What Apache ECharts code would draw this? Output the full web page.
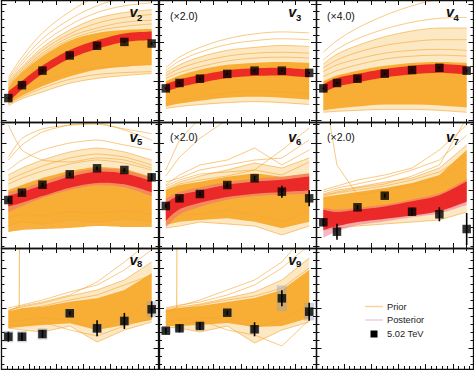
<!DOCTYPE html>
<html><head><meta charset="utf-8">
<script src="https://cdn.jsdelivr.net/npm/echarts@6/dist/echarts.min.js"></script>
<style>html,body{margin:0;padding:0;background:#fff}#c{width:474px;height:370px}</style>
</head><body><div id="c"></div>
<script>
// centrality bin centres (%)
const cent = [2.5, 7.5, 15, 25, 35, 45, 55];
// tick values
const xMajorTicks = [10, 20, 30, 40, 50];
const xMinorTicks = [5, 15, 25, 35, 45, 55];
const xFineTicks = [2,4,6,8,12,14,16,18,22,24,26,28,32,34,36,38,42,44,46,48,52,54,56];
const row1Major = [0, 5, 10, 15];
const row1Minor = [1,2,3,4,6,7,8,9,11,12,13,14];
const row2Major = [0, 1, 2];
const row2Minor = [-0.2,0.2,0.4,0.6,0.8,1.2,1.4,1.6,1.8,2.2,2.4];
const row3Major = [0, 0.5, 1];
const row3Minor = [-0.2,-0.1,0.1,0.2,0.3,0.4,0.6,0.7,0.8,0.9,1.1,1.2];

// values in percent, as plotted (including the panel scale factor)
// ---- v2 ----
const v2Data = [2.84, 4.5, 6.38, 8.34, 9.59, 10.09, 9.88];
const v2Err = [0.1, 0.1, 0.1, 0.1, 0.1, 0.1, 0.15];
const v2PostLow = [2.3, 3.94, 5.94, 7.94, 9.19, 10.07, 10.32];
const v2PostHigh = [3.7, 5.06, 7.06, 9.06, 10.31, 11.19, 11.44];
const v2CoreLow = [2.13, 3.13, 4.38, 5.63, 6.5, 6.88, 7.13];
const v2CoreHigh = [4.25, 6.13, 8.25, 10.25, 11.25, 11.63, 11.75];
const v2Prior = [
  [5.5, 8.13, 11.25, 14.0, 16.0, 17.5, 18.25],
  [5.25, 7.63, 10.5, 13.0, 14.75, 15.75, 16.25],
  [5.0, 7.25, 9.88, 12.25, 13.88, 14.75, 15.13],
  [4.88, 6.88, 9.38, 11.63, 13.13, 13.88, 14.25],
  [4.63, 6.63, 9.0, 11.13, 12.5, 13.25, 13.63],
  [4.5, 6.38, 8.63, 10.75, 11.88, 12.63, 12.88],
  [4.4, 6.2, 8.4, 10.4, 11.5, 12.1, 12.4],
  [2.38, 3.5, 4.88, 6.13, 6.75, 7.0, 7.13],
  [2.13, 3.0, 4.13, 5.25, 5.88, 6.13, 6.25],
  [1.88, 2.75, 3.63, 4.75, 5.38, 5.75, 6.0]
];
// ---- v3 (x2.0) ----
const v3Data = [4.09, 4.79, 5.34, 5.96, 6.38, 6.38, 6.09];
const v3Err = [0.1, 0.1, 0.1, 0.1, 0.1, 0.1, 0.1];
const v3PostLow = [3.69, 4.25, 4.81, 5.44, 5.69, 5.75, 5.5];
const v3PostHigh = [4.69, 5.25, 5.81, 6.44, 6.69, 6.75, 6.5];
const v3CoreLow = [1.75, 2.13, 2.5, 2.88, 3.0, 2.88, 2.63];
const v3CoreHigh = [5.0, 5.75, 6.5, 7.13, 7.38, 7.5, 7.38];
const v3Prior = [
  [6.75, 8.13, 9.38, 10.5, 11.13, 11.38, 11.25],
  [6.38, 7.63, 8.75, 9.75, 10.25, 10.5, 10.38],
  [6.13, 7.13, 8.13, 9.0, 9.38, 9.63, 9.5],
  [5.75, 6.63, 7.5, 8.25, 8.63, 8.75, 8.63],
  [5.38, 6.13, 6.88, 7.63, 8.0, 8.13, 8.0],
  [1.5, 1.75, 2.0, 2.25, 2.38, 2.25, 2.0],
  [2.13, 2.5, 3.0, 3.5, 3.75, 3.63, 3.38]
];
// ---- v4 (x4.0) ----
const v4Data = [4.09, 4.79, 5.34, 6.0, 6.46, 6.75, 6.38];
const v4Err = [0.1, 0.1, 0.1, 0.1, 0.1, 0.1, 0.1];
const v4PostLow = [3.53, 4.32, 4.86, 5.48, 5.9, 6.11, 5.9];
const v4PostHigh = [4.65, 5.44, 5.98, 6.6, 7.02, 7.23, 7.02];
const v4CoreLow = [1.25, 1.5, 1.75, 2.0, 2.0, 1.88, 1.63];
const v4CoreHigh = [5.0, 5.75, 6.38, 7.0, 7.38, 7.5, 7.38];
const v4Prior = [
  [8.75, 10.25, 11.88, 13.5, 14.75, 15.63, 16.25],
  [7.75, 9.13, 10.5, 11.75, 12.63, 13.13, 13.25],
  [7.25, 8.5, 9.63, 10.75, 11.5, 11.88, 11.88],
  [6.75, 7.75, 8.75, 9.63, 10.13, 10.38, 10.38],
  [6.25, 7.13, 7.88, 8.63, 9.0, 9.13, 9.0],
  [5.63, 6.38, 7.13, 7.88, 8.25, 8.38, 8.25],
  [1.0, 1.13, 1.25, 1.38, 1.38, 1.25, 1.0]
];
// ---- v5 ----
const v5Data = [0.787, 0.943, 1.113, 1.334, 1.462, 1.426, 1.270];
const v5Err = [0.04, 0.04, 0.04, 0.04, 0.04, 0.04, 0.08];
const v5PostLow = [0.65, 0.73, 0.87, 1.05, 1.15, 1.12, 0.95];
const v5PostHigh = [0.88, 0.96, 1.10, 1.28, 1.39, 1.35, 1.19];
const v5PinkLow = [0.53, 0.66, 0.83, 1.0, 1.1, 1.06, 0.87];
const v5PinkHigh = [0.95, 1.03, 1.17, 1.35, 1.45, 1.42, 1.26];
const v5CoreLow = [0.106, 0.149, 0.170, 0.191, 0.234, 0.213, 0.213];
const v5CoreHigh = [1.0, 1.106, 1.255, 1.404, 1.489, 1.447, 1.277];
const v5Prior = [
  [1.426, 1.638, 1.851, 2.0, 2.064, 1.957, 1.851],
  [1.319, 1.468, 1.638, 1.809, 1.894, 1.809, 1.638],
  [1.213, 1.340, 1.511, 1.681, 1.766, 1.702, 1.532],
  [1.128, 1.255, 1.404, 1.553, 1.638, 1.574, 1.426],
  [1.638, 1.957, 2.234, 2.383, 2.426, 2.277, 2.064],
  [1.7, 2.1, 2.3, 2.38, 2.4, 2.3, 2.2],
  [2.383, 1.851, 1.638, 1.596, 1.681, 1.638, 1.468],
  [0.234, 0.319, 0.277, 0.362, 0.319, 0.383, 0.319],
  [0.404, 0.489, 0.447, 0.532, 0.511, 0.553, 0.489]
];
// ---- v6 (x2.0) ----
const v6Data = [0.660, 0.823, 0.915, 1.106, 1.249, 0.964, 0.823];
const v6Err = [0.04, 0.04, 0.04, 0.05, 0.05, 0.128, 0.17];
const v6PostLow = [0.35, 0.59, 0.73, 0.85, 0.92, 0.96, 0.99];
const v6PostHigh = [0.73, 0.89, 0.99, 1.11, 1.18, 1.22, 1.29];
const v6PinkLow = [0.2, 0.48, 0.64, 0.79, 0.87, 0.9, 0.92];
const v6PinkHigh = [0.82, 0.96, 1.06, 1.17, 1.24, 1.28, 1.35];
const v6CoreLow = [0.255, 0.326, 0.362, 0.398, 0.326, 0.185, 0.326];
const v6CoreHigh = [1.0, 1.106, 1.177, 1.283, 1.355, 1.283, 1.355];
const v6Prior = [
  [1.426, 2.064, 2.532, 2.574, 2.532, 2.489, 2.447],
  [1.3, 1.7, 2.1, 2.5, 2.6, 2.6, 2.5],
  [1.106, 1.319, 1.532, 1.638, 1.894, 1.532, 1.851],
  [1.170, 1.255, 1.426, 1.532, 1.638, 1.681, 2.064],
  [1.043, 1.170, 1.298, 1.426, 1.574, 1.468, 1.681],
  [1.085, 1.213, 1.340, 1.383, 1.426, 1.319, 1.596],
  [1.0, 1.128, 1.213, 1.298, 1.426, 1.851, 2.319],
  [0.191, 0.234, 0.319, 0.277, 0.234, 0.043, 0.234],
  [0.362, 0.468, 0.489, 0.574, 0.468, 0.319, 0.532]
];
// ---- v7 (x2.0) ----
const v7Data = [0.313, 0.113, 0.632, 0.879, 0.538, 0.483, 0.170];
const v7Err = [0.085, 0.17, 0.043, 0.043, 0.085, 0.149, 0.34];
const v7PostLow = [0.15, 0.23, 0.32, 0.39, 0.46, 0.55, 0.75];
const v7PostHigh = [0.58, 0.53, 0.58, 0.65, 0.76, 0.89, 1.18];
const v7PinkLow = [-0.02, 0.12, 0.25, 0.33, 0.42, 0.5, 0.68];
const v7PinkHigh = [0.62, 0.58, 0.62, 0.69, 0.8, 0.93, 1.23];
const v7CoreLow = [0.234, 0.277, 0.319, 0.383, 0.468, 0.553, 0.787];
const v7CoreHigh = [0.851, 0.894, 0.957, 1.043, 1.149, 1.319, 1.851];
const v7Prior = [
  [3.234, 1.532, 0.894, 1.0, 1.106, 1.255, 1.638],
  [0.957, 1.043, 1.128, 1.255, 1.426, 1.638, 2.17],
  [1.0, 1.085, 1.213, 1.319, 1.468, 1.851, 2.383],
  [0.915, 1.0, 1.064, 1.170, 1.255, 1.468, 1.957],
  [0.872, 0.936, 1.0, 1.085, 1.213, 1.383, 1.745],
  [0.894, 0.957, 1.043, 1.128, 1.298, 1.532, 2.532],
  [0.149, 0.191, 0.234, 0.277, 0.319, 0.362, 0.532]
];
// ---- v8 ----
const v8Data = [0.141, 0.141, 0.175, 0.434, 0.246, 0.338, 0.484];
const v8Err = [0.0625, 0.05, 0.05, 0.025, 0.1, 0.1, 0.1];
const v8Sys = [0.07, 0.07, 0.07, 0.05, 0.06, 0.06, 0.1];
const v8CoreLow = [0.246, 0.266, 0.2875, 0.309, 0.225, 0.2875, 0.35];
const v8CoreHigh = [0.454, 0.496, 0.516, 0.579, 0.621, 0.725, 0.934];
const v8Prior = [
  [0.5, 0.5375, 0.6, 0.7, 0.7875, 0.975, 1.225],
  [0.475, 0.5125, 0.5625, 0.65, 0.725, 0.85, 1.075],
  [0.4625, 0.525, 0.575, 0.6625, 0.825, 1.075, 1.35],
  [0.45, 0.4875, 0.525, 0.6, 0.6625, 0.7875, 0.9125],
  [0.25, 0.225, 0.2, 0.275, 0.075, 0.225, 0.325],
  [0.2875, 0.275, 0.325, 0.225, 0.15, 0.275, 0.375],
  [0.325, 0.35, 0.375, 0.35, 0.225, 0.375, 0.6]
];
const v8OutX = [2.5, 6.5, 7.5];
const v8OutY = [0.46, 0.52, 12];
// ---- v9 ----
const v9Data = [0.216, 0.246, 0.275, 0.441, 0.234, 0.621, 0.454];
const v9Err = [0.0375, 0.05, 0.05, 0.025, 0.0875, 0.1, 0.1125];
const v9Sys = [0.04, 0.04, 0.04, 0.04, 0.05, 0.16, 0.11];
const v9CoreLow = [0.275, 0.275, 0.2875, 0.3125, 0.2625, 0.275, 0.375];
const v9CoreHigh = [0.475, 0.5, 0.525, 0.575, 0.625, 0.725, 0.975];
const v9Prior = [
  [0.5, 0.5375, 0.575, 0.6625, 0.7875, 1.0, 1.2875],
  [0.4875, 0.525, 0.6, 0.725, 0.85, 1.075, 1.475],
  [0.475, 0.5125, 0.55, 0.625, 0.7, 0.85, 1.125],
  [0.4625, 0.4875, 0.5375, 0.6, 0.65, 0.75, 1.0],
  [0.2625, 0.25, 0.2, 0.275, 0.0625, 0.225, 0.325],
  [0.3, 0.275, 0.35, 0.225, 0.1625, 0.025, 0.35],
  [0.325, 0.35, 0.375, 0.375, 0.25, 0.35, 0.5375]
];
const v9OutX = [2.5, 6.5, 7.5];
const v9OutY = [0.45, 0.5, 12];

const harmonicNames = ['2','3','4','5','6','7','8','9'];
const scaleLabels = ['', '(\u00d72.0)', '(\u00d74.0)', '', '(\u00d72.0)', '(\u00d72.0)', '', ''];
const legendLabels = ['Prior', 'Posterior', '5.02 TeV'];

// ---------- layout ----------
const colLeft = [1.5, 159, 316.5], colWidth = 157, xMax = 57.5;
const rowTop = [-4, 122, 248], rowHeight = [126, 126, 121];
const rowMin = [-0.25, -0.234, -0.2625], rowMax = [15.5, 2.447, 1.25];
const rowMajor = [row1Major, row2Major, row3Major];
const rowMinor = [row1Minor, row2Minor, row3Minor];

// hi/lo: which prior curves bound the light (sparser) part of the prior spread
const panels = [
  {row:0,col:0,data:v2Data,err:v2Err,sys:null,cl:v2CoreLow,ch:v2CoreHigh,prior:v2Prior,hi:3,lo:9,pl:v2PostLow,ph:v2PostHigh,kl:null,kh:null,sm:0.35,ox:null,oy:null},
  {row:0,col:1,data:v3Data,err:v3Err,sys:null,cl:v3CoreLow,ch:v3CoreHigh,prior:v3Prior,hi:2,lo:5,pl:v3PostLow,ph:v3PostHigh,kl:null,kh:null,sm:0.35,ox:null,oy:null},
  {row:0,col:2,data:v4Data,err:v4Err,sys:null,cl:v4CoreLow,ch:v4CoreHigh,prior:v4Prior,hi:2,lo:6,pl:v4PostLow,ph:v4PostHigh,kl:null,kh:null,sm:0.35,ox:null,oy:null},
  {row:1,col:0,data:v5Data,err:v5Err,sys:null,cl:v5CoreLow,ch:v5CoreHigh,prior:v5Prior,hi:1,lo:7,pl:v5PostLow,ph:v5PostHigh,kl:v5PinkLow,kh:v5PinkHigh,sm:0.2,ox:null,oy:null},
  {row:1,col:1,data:v6Data,err:v6Err,sys:null,cl:v6CoreLow,ch:v6CoreHigh,prior:v6Prior,hi:4,lo:7,pl:v6PostLow,ph:v6PostHigh,kl:v6PinkLow,kh:v6PinkHigh,sm:0,ox:null,oy:null},
  {row:1,col:2,data:v7Data,err:v7Err,sys:null,cl:v7CoreLow,ch:v7CoreHigh,prior:v7Prior,hi:3,lo:6,pl:v7PostLow,ph:v7PostHigh,kl:v7PinkLow,kh:v7PinkHigh,sm:0,ox:null,oy:null},
  {row:2,col:0,data:v8Data,err:v8Err,sys:v8Sys,cl:v8CoreLow,ch:v8CoreHigh,prior:v8Prior,hi:1,lo:4,pl:null,ph:null,kl:null,kh:null,sm:0,ox:v8OutX,oy:v8OutY},
  {row:2,col:1,data:v9Data,err:v9Err,sys:v9Sys,cl:v9CoreLow,ch:v9CoreHigh,prior:v9Prior,hi:2,lo:4,pl:null,ph:null,kl:null,kh:null,sm:0,ox:v9OutX,oy:v9OutY}
];

const grids = [], xAxes = [], yAxes = [], series = [], graphics = [];
const INK = '#111';
function tickAxis(gi, dim, pos, min, max, values, len, showLine) {
  const ax = {
    gridIndex: gi, type: 'value', position: pos, min: min, max: max,
    axisLine: {show: showLine, onZero: false, lineStyle: {color: INK, width: 1.3}},
    axisTick: {show: true, inside: true, length: len, customValues: values, lineStyle: {color: INK, width: 1}},
    axisLabel: {show: false}, splitLine: {show: false}, z: 10, silent: true
  };
  (dim === 'x' ? xAxes : yAxes).push(ax);
}
function addGrid(row, col) {
  const gi = grids.length;
  grids.push({left: colLeft[col], top: rowTop[row], width: colWidth, height: rowHeight[row], containLabel: false, show: false});
  tickAxis(gi, 'x', 'bottom', 0, xMax, xMajorTicks, 5, true);
  tickAxis(gi, 'x', 'bottom', 0, xMax, row === 2 ? xFineTicks : xMinorTicks, 3, false);
  tickAxis(gi, 'x', 'top', 0, xMax, xMajorTicks, 5, true);
  tickAxis(gi, 'x', 'top', 0, xMax, xMinorTicks, 3, false);
  tickAxis(gi, 'y', 'left', rowMin[row], rowMax[row], rowMajor[row], 5, true);
  tickAxis(gi, 'y', 'left', rowMin[row], rowMax[row], rowMinor[row], 3, false);
  tickAxis(gi, 'y', 'right', rowMin[row], rowMax[row], rowMajor[row], 5, true);
  tickAxis(gi, 'y', 'right', rowMin[row], rowMax[row], rowMinor[row], 3, false);
  return gi;
}
function pts(ys, xs) { return (xs || cent).map((x, i) => [x, ys[i]]); }
function base(gi) { return {xAxisIndex: 4 * gi, yAxisIndex: 4 * gi, silent: true, animation: false}; }
function addLine(gi, ys, xs, color, width, smooth, z) {
  series.push(Object.assign(base(gi), {type: 'line', data: pts(ys, xs), symbol: 'none', smooth: smooth,
    lineStyle: {color: color, width: width}, z: z}));
}
// path through pixel points (cubic segments when k > 0)
function pathThrough(P, k, start) {
  const f = v => v.toFixed(2);
  let d = (start ? 'M' : 'L') + f(P[0][0]) + ' ' + f(P[0][1]);
  for (let i = 0; i < P.length - 1; i++) {
    const a = P[i], b = P[i + 1];
    if (!k) { d += ' L' + f(b[0]) + ' ' + f(b[1]); continue; }
    const p0 = P[Math.max(i - 1, 0)], p3 = P[Math.min(i + 2, P.length - 1)];
    const c1 = [a[0] + (b[0] - p0[0]) * k, a[1] + (b[1] - p0[1]) * k];
    const c2 = [b[0] - (p3[0] - a[0]) * k, b[1] - (p3[1] - a[1]) * k];
    d += ' C' + f(c1[0]) + ' ' + f(c1[1]) + ' ' + f(c2[0]) + ' ' + f(c2[1]) + ' ' + f(b[0]) + ' ' + f(b[1]);
  }
  return d;
}
// filled band between a lower and an upper curve, drawn through the axes
function addBand(gi, low, high, color, smooth, z) {
  const k = smooth ? smooth * 0.5 : 0;
  series.push(Object.assign(base(gi), {type: 'custom', z: z, clip: true,
    data: cent.map((x, i) => [x, low[i], high[i]]),
    renderItem: (params, api) => {
      if (params.dataIndex !== 0) return null;
      const top = cent.map((x, i) => api.coord([x, high[i]]));
      const bot = cent.map((x, i) => api.coord([x, low[i]])).reverse();
      const d = pathThrough(top, k, true) + ' ' + pathThrough(bot, k, false) + ' Z';
      return {type: 'path', shape: {pathData: d}, style: {fill: color}};
    }}));
}

panels.forEach((p, k) => {
  const gi = addGrid(p.row, p.col);
  // prior: light spread, individual curves, dense core
  addBand(gi, p.prior[p.lo], p.prior[p.hi], 'rgba(248,182,72,0.32)', p.sm, 1);
  p.prior.forEach(ys => addLine(gi, ys, null, 'rgba(243,166,50,0.6)', 1, p.sm, 2));
  if (p.ox) addLine(gi, p.oy, p.ox, 'rgba(243,166,50,0.75)', 1, false, 2);
  addBand(gi, p.cl, p.ch, 'rgba(247,162,28,0.85)', p.sm, 2);
  // posterior
  if (p.kl) addBand(gi, p.kl, p.kh, 'rgba(236,95,140,0.45)', 0.3, 3);
  if (p.pl) addBand(gi, p.pl, p.ph, 'rgba(234,30,34,0.9)', 0.3, 3);
  // data
  if (p.sys) {
    series.push(Object.assign(base(gi), {type: 'custom', z: 4,
      data: cent.map((x, i) => [x, p.data[i], p.sys[i]]),
      renderItem: (params, api) => {
        const x = api.value(0), y = api.value(1), s = api.value(2);
        const a = api.coord([x, y + s]), b = api.coord([x, y - s]);
        return {type: 'rect', shape: {x: a[0] - 5, y: a[1], width: 10, height: b[1] - a[1]},
          style: {fill: 'rgba(150,165,180,0.45)'}};
      }}));
  }
  series.push(Object.assign(base(gi), {type: 'custom', z: 5,
    data: cent.map((x, i) => [x, p.data[i], p.err[i]]),
    renderItem: (params, api) => {
      const x = api.value(0), y = api.value(1), e = api.value(2);
      const a = api.coord([x, y - e]), b = api.coord([x, y + e]);
      return {type: 'line', shape: {x1: a[0], y1: a[1], x2: b[0], y2: b[1]},
        style: {stroke: '#000', lineWidth: 1.6}};
    }}));
  series.push(Object.assign(base(gi), {type: 'scatter', z: 6, data: pts(p.data), symbol: 'rect',
    symbolSize: 8.5, itemStyle: {color: '#000'}}));

  // labels
  const vX = [129.5, 288.3, 446][p.col];
  const vY = [12.2, 136.6, 259.9][p.row];
  const sY = [17.6, 141.2, 263.6][p.row];
  graphics.push({type: 'text', x: vX, y: vY, z: 20, style: {text: 'v', fontFamily: 'Liberation Sans',
    fontSize: 14.5, fontWeight: 'bold', fontStyle: 'italic', fill: '#111', align: 'left', verticalAlign: 'middle'}});
  graphics.push({type: 'text', x: vX + 7.6, y: sY, z: 20, style: {text: harmonicNames[k], fontFamily: 'Liberation Sans',
    fontSize: 9.5, fontWeight: 'bold', fill: '#111', align: 'left', verticalAlign: 'middle'}});
  if (scaleLabels[k]) {
    graphics.push({type: 'text', x: [0, 170, 327][p.col], y: [15.5, 137, 0][p.row], z: 20,
      style: {text: scaleLabels[k], fontFamily: 'Liberation Sans', fontSize: 10.5, fill: '#111',
        align: 'left', verticalAlign: 'middle'}});
  }
});
// empty 9th panel
addGrid(2, 2);

// legend
graphics.push({type: 'line', z: 20, shape: {x1: 365, y1: 306.5, x2: 383, y2: 306.5}, style: {stroke: 'rgb(250,212,160)', lineWidth: 1.5}});
graphics.push({type: 'line', z: 20, shape: {x1: 365, y1: 320, x2: 383, y2: 320}, style: {stroke: 'rgb(240,205,225)', lineWidth: 1.5}});
graphics.push({type: 'rect', z: 20, shape: {x: 370.5, y: 330.5, width: 7, height: 7}, style: {fill: '#000'}});
[306.5, 320, 334].forEach((y, i) => {
  graphics.push({type: 'text', x: 387, y: y, z: 20, style: {text: legendLabels[i], fontFamily: 'Liberation Sans',
    fontSize: 9.3, fill: '#222', align: 'left', verticalAlign: 'middle'}});
});

const chart = echarts.init(document.getElementById('c'), null, {renderer: 'svg', width: 474, height: 370});
chart.setOption({
  animation: false,
  backgroundColor: '#fff',
  grid: grids, xAxis: xAxes, yAxis: yAxes, series: series, graphic: graphics
});
</script></body></html>
